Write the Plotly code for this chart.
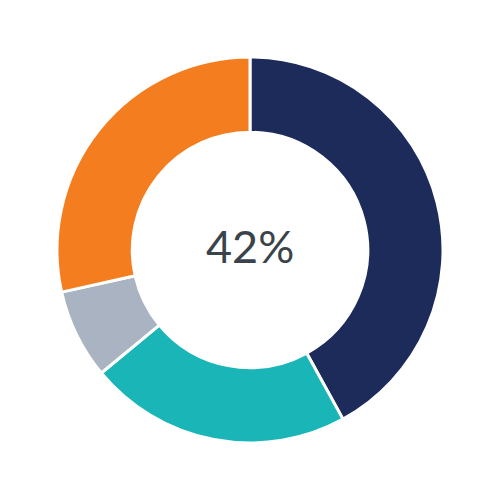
import plotly.graph_objects as go

labels = ["Navy", "Teal", "Gray", "Orange"]
values = [42, 22, 7.5, 28.5]
colors = ["#1c2b5a", "#1ab5b7", "#a9b3c1", "#f47d20"]
centerText = "42%"

fig = go.Figure(go.Pie(
    labels=labels,
    values=values,
    hole=0.61,
    sort=False,
    direction="clockwise",
    rotation=0,
    textinfo="none",
    hoverinfo="label+percent",
    marker=dict(colors=colors, line=dict(color="white", width=3)),
))

# page body has an 8px offset, so shift the plot area up/left
fig.update_layout(
    width=500,
    height=500,
    margin=dict(l=49, r=65, t=49, b=65),
    paper_bgcolor="white",
    showlegend=False,
    annotations=[dict(
        text=centerText,
        x=0.5,
        y=0.5,
        xref="paper",
        yref="paper",
        yshift=4,
        showarrow=False,
        font=dict(family="Lato", size=45, color="#3a434a"),
    )],
)

fig.write_html("out.html")
